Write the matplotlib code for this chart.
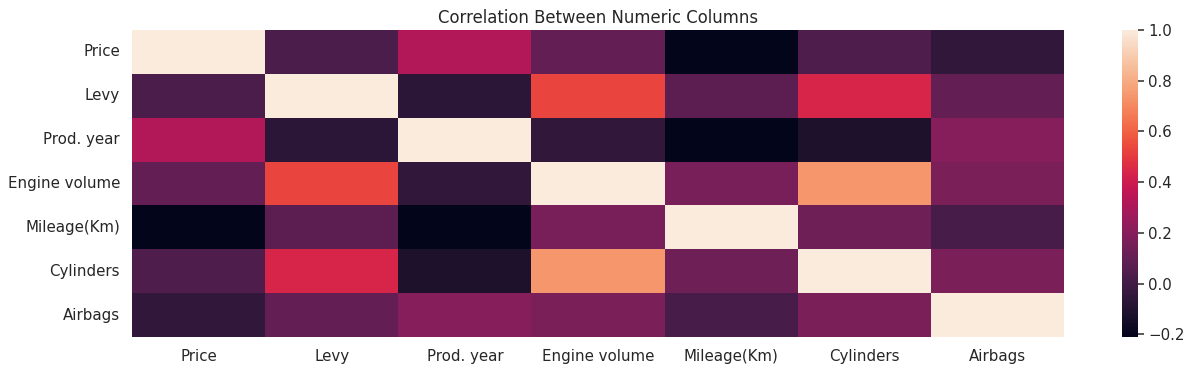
import numpy as np
import pandas as pd
import matplotlib
matplotlib.use("Agg")
import matplotlib.pyplot as plt
import seaborn as sns

columns = ["Price", "Levy", "Prod. year", "Engine volume", "Mileage(Km)", "Cylinders", "Airbags"]

# upper-triangle correlations (row i, col j>i)
price_row = [0.03, 0.32, 0.10, -0.21, 0.04, -0.05]
levy_row = [-0.07, 0.53, 0.08, 0.44, 0.10]
prod_row = [-0.05, -0.21, -0.12, 0.20]
engine_row = [0.16, 0.74, 0.17]
mileage_row = [0.13, 0.02]
cyl_row = [0.17]

rows = [price_row, levy_row, prod_row, engine_row, mileage_row, cyl_row]
n = len(columns)
corr = np.eye(n)
for i, r in enumerate(rows):
    for k, v in enumerate(r):
        j = i + 1 + k
        corr[i, j] = v
        corr[j, i] = v
df = pd.DataFrame(corr, index=columns, columns=columns)

sns.set_theme(style="white")
plt.rcParams['font.family'] = ['DejaVu Sans']

W, H = 1194, 372
fig = plt.figure(figsize=(W/72, H/72), dpi=72)
ax = fig.add_axes([132/W, (H-337)/H, (1064-132)/W, (337-30)/H])
cax = fig.add_axes([1122/W, (H-337)/H, 16/W, (337-30)/H])
sns.heatmap(df, ax=ax, cbar_ax=cax, cmap="rocket")
ax.set_title("Correlation Between Numeric Columns", fontsize=16.5, color="#262626", pad=7)
ax.tick_params(axis="both", labelsize=15, colors="#262626", length=0, pad=12)
plt.setp(ax.get_yticklabels(), rotation=0)
plt.setp(ax.get_xticklabels(), rotation=0)
cax.tick_params(labelsize=15, length=6, width=1.5, colors="#262626", pad=4)
fig.savefig("out.png", dpi=72)
